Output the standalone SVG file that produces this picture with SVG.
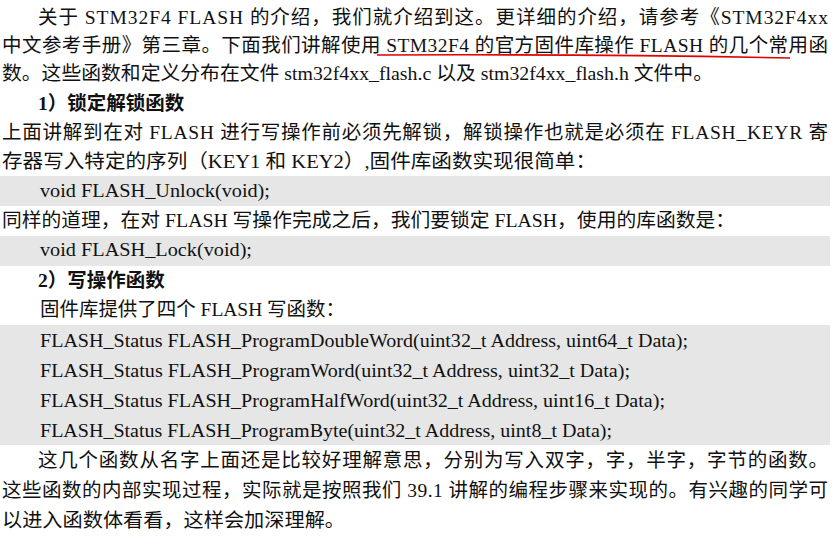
<svg xmlns="http://www.w3.org/2000/svg" width="835" height="548" viewBox="0 0 835 548">
<style>
text{font-family:"Liberation Serif","Noto Sans CJK SC",serif;font-size:19.5px;fill:#111}
.b{font-weight:bold}
.bg{fill:#e6e6e6}
</style>
<rect width="835" height="548" fill="#fff"/>
<rect class="bg" x="0" y="176" width="830" height="30"/>
<rect class="bg" x="0" y="236" width="830" height="30"/>
<rect class="bg" x="0" y="325" width="830" height="120"/>
<path d="M377 55 Q600 54 790 58" fill="none" stroke="#e00000" stroke-width="1.6"/>
<text x="38" y="24" textLength="790" lengthAdjust="spacing">关于 STM32F4 FLASH 的介绍，我们就介绍到这。更详细的介绍，请参考《STM32F4xx</text>
<text x="2" y="52" textLength="826" lengthAdjust="spacing">中文参考手册》第三章。下面我们讲解使用 STM32F4 的官方固件库操作 FLASH 的几个常用函</text>
<text x="2" y="80" textLength="711" lengthAdjust="spacingAndGlyphs">数。这些函数和定义分布在文件 stm32f4xx_flash.c 以及 stm32f4xx_flash.h 文件中。</text>
<text x="38" y="110" class="b">1）锁定解锁函数</text>
<text x="2" y="139" textLength="826" lengthAdjust="spacing">上面讲解到在对 FLASH 进行写操作前必须先解锁，解锁操作也就是必须在 FLASH_KEYR 寄</text>
<text x="2" y="168" textLength="594" lengthAdjust="spacingAndGlyphs">存器写入特定的序列（KEY1 和 KEY2）,固件库函数实现很简单：</text>
<text x="40" y="197" textLength="230" lengthAdjust="spacingAndGlyphs">void FLASH_Unlock(void);</text>
<text x="2" y="227" textLength="733" lengthAdjust="spacingAndGlyphs">同样的道理，在对 FLASH 写操作完成之后，我们要锁定 FLASH，使用的库函数是：</text>
<text x="40" y="256" textLength="212" lengthAdjust="spacingAndGlyphs">void FLASH_Lock(void);</text>
<text x="38" y="287" class="b">2）写操作函数</text>
<text x="40" y="316" textLength="305" lengthAdjust="spacingAndGlyphs">固件库提供了四个 FLASH 写函数：</text>
<text x="40" y="347" textLength="648" lengthAdjust="spacingAndGlyphs">FLASH_Status FLASH_ProgramDoubleWord(uint32_t Address, uint64_t Data);</text>
<text x="40" y="377" textLength="590" lengthAdjust="spacingAndGlyphs">FLASH_Status FLASH_ProgramWord(uint32_t Address, uint32_t Data);</text>
<text x="40" y="407" textLength="625" lengthAdjust="spacingAndGlyphs">FLASH_Status FLASH_ProgramHalfWord(uint32_t Address, uint16_t Data);</text>
<text x="40" y="437" textLength="572" lengthAdjust="spacingAndGlyphs">FLASH_Status FLASH_ProgramByte(uint32_t Address, uint8_t Data);</text>
<text x="38" y="467" textLength="790" lengthAdjust="spacing">这几个函数从名字上面还是比较好理解意思，分别为写入双字，字，半字，字节的函数。</text>
<text x="2" y="497" textLength="826" lengthAdjust="spacing">这些函数的内部实现过程，实际就是按照我们 39.1 讲解的编程步骤来实现的。有兴趣的同学可</text>
<text x="2" y="527" textLength="343" lengthAdjust="spacingAndGlyphs">以进入函数体看看，这样会加深理解。</text>
</svg>
